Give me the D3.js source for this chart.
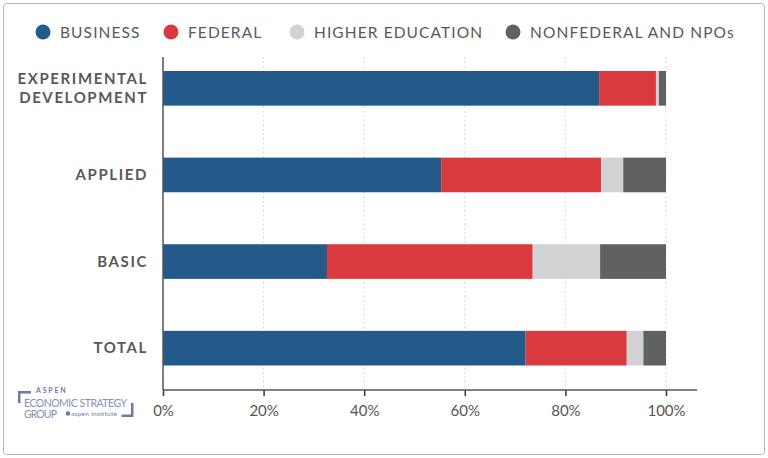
<!DOCTYPE html>
<html>
<head>
<meta charset="utf-8">
<script src="https://cdn.jsdelivr.net/npm/d3@7"></script>
<style>
  body { margin: 0; background: #fff; }
  svg text { font-family: Lato, "Open Sans", sans-serif; fill: #58595b; }
</style>
</head>
<body>
<div id="chart"></div>
<script>
// categories, top to bottom
var categories = ["EXPERIMENTAL DEVELOPMENT", "APPLIED", "BASIC", "TOTAL"];
var seriesNames = ["BUSINESS", "FEDERAL", "HIGHER EDUCATION", "NONFEDERAL AND NPOs"];
var seriesColors = ["#245a8a", "#d93a40", "#d1d2d4", "#606161"];

// shares in %, one array per series (same order as categories)
var business = [86.7, 55.3, 32.6, 72.1];
var federal = [11.3, 31.8, 40.9, 20.1];
var higherEd = [0.6, 4.4, 13.4, 3.3];
var nonfederal = [1.4, 8.5, 13.1, 4.5];

var tickValues = [0, 20, 40, 60, 80, 100];

var W = 768, H = 458;
var plot = {left: 163, right: 666, top: 57, bottom: 390};

var svg = d3.select("#chart").append("svg")
    .attr("width", W)
    .attr("height", H);

// outer frame
svg.append("rect")
    .attr("x", 3.5).attr("y", 3.5)
    .attr("width", W - 7).attr("height", H - 7)
    .attr("rx", 3)
    .style("fill", "none")
    .style("stroke", "#b5b5b5")
    .style("stroke-width", 1);

var x = d3.scaleLinear().domain([0, 100]).range([plot.left, plot.right]);
var y = d3.scaleBand().domain(categories)
    .range([71, 365.5])
    .paddingInner(0.6).paddingOuter(0);

// build stack rows from the arrays
var rows = categories.map(function(c, i) {
  return {cat: c, s0: business[i], s1: federal[i], s2: higherEd[i], s3: nonfederal[i]};
});
var stack = d3.stack().keys(["s0", "s1", "s2", "s3"])(rows);

// dotted grid
svg.append("g").selectAll("line.grid")
    .data(tickValues.slice(1)).enter().append("line")
    .attr("x1", function(d) { return x(d); })
    .attr("x2", function(d) { return x(d); })
    .attr("y1", plot.top)
    .attr("y2", plot.bottom)
    .style("stroke", "#cfcfcf")
    .style("stroke-dasharray", "1.5,3");

// bars
svg.append("g").selectAll("g.series")
    .data(stack).enter().append("g")
    .style("fill", function(d, i) { return seriesColors[i]; })
    .selectAll("rect")
    .data(function(d) { return d; }).enter().append("rect")
    .attr("x", function(d) { return x(d[0]); })
    .attr("width", function(d) { return x(d[1]) - x(d[0]); })
    .attr("y", function(d) { return y(d.data.cat); })
    .attr("height", y.bandwidth());

// x axis
var xAxis = svg.append("g")
    .attr("transform", "translate(0," + plot.bottom + ")")
    .call(d3.axisBottom(x).tickValues(tickValues)
      .tickFormat(function(d) { return d + "%"; })
      .tickSize(6).tickPadding(9).tickSizeOuter(0));
xAxis.select(".domain").remove();
xAxis.append("line")
    .attr("x1", plot.left).attr("x2", 697)
    .style("stroke", "#555").style("stroke-width", 1.5);
xAxis.selectAll(".tick line").style("stroke", "#333").style("stroke-width", 1.5);
xAxis.selectAll(".tick text")
    .style("font-size", "15px")
    .style("font-family", "Lato, sans-serif")
    .style("fill", "#555");

// y axis line
svg.append("line")
    .attr("x1", plot.left).attr("x2", plot.left)
    .attr("y1", plot.top).attr("y2", plot.bottom)
    .style("stroke", "#555").style("stroke-width", 1.5);

// category labels
var labels = svg.append("g").selectAll("text.cat")
    .data(categories).enter().append("text")
    .attr("x", 148)
    .attr("y", function(d) { return y(d) + y.bandwidth() / 2; })
    .attr("text-anchor", "end")
    .style("font-size", "15px")
    .style("font-weight", "bold")
    .style("letter-spacing", "1.6px")
    .style("fill", "#58595b");
labels.each(function(d) {
  var t = d3.select(this);
  var parts = d === "EXPERIMENTAL DEVELOPMENT" ? ["EXPERIMENTAL", "DEVELOPMENT"] : [d];
  parts.forEach(function(p, i) {
    t.append("tspan")
      .attr("x", 148)
      .attr("dy", parts.length > 1 ? (i === 0 ? "-0.3em" : "1.25em") : "0.35em")
      .text(p);
  });
});

// legend
var legendX = [43, 171, 297, 513];
var legend = svg.append("g").selectAll("g.leg")
    .data(seriesNames).enter().append("g")
    .attr("transform", function(d, i) { return "translate(" + legendX[i] + ",32)"; });
legend.append("circle")
    .attr("r", 7.5)
    .style("fill", function(d, i) { return seriesColors[i]; });
legend.append("text")
    .attr("x", 17)
    .attr("dy", "0.36em")
    .style("font-size", "15.5px")
    .style("letter-spacing", "1.1px")
    .text(function(d) { return d; });

// logo
var logoColor = "#6f7aa6", logoLight = "#8790b6";
var logo = svg.append("g");
logo.append("path")
    .attr("d", "M18,403 V391 H31 V393.5 H20.5 V403 Z")
    .style("fill", logoColor);
logo.append("text").attr("x", 36).attr("y", 393)
    .style("font-size", "7px").style("font-weight", "bold")
    .style("letter-spacing", "1.8px").style("fill", logoColor)
    .text("ASPEN");
logo.append("text").attr("x", 24).attr("y", 406.5)
    .attr("textLength", 103)
    .style("font-size", "10.5px").style("fill", logoLight)
    .text("ECONOMIC STRATEGY");
logo.append("text").attr("x", 24).attr("y", 417.5)
    .attr("textLength", 33)
    .style("font-size", "10.5px").style("fill", logoLight)
    .text("GROUP");
logo.append("circle").attr("cx", 68).attr("cy", 413.5).attr("r", 2.3)
    .style("fill", logoColor);
logo.append("text").attr("x", 71).attr("y", 416)
    .attr("textLength", 46)
    .style("font-size", "6.5px").style("fill", logoColor)
    .text("aspen institute");
logo.append("path")
    .attr("d", "M121.5,417 H133.5 V403 H131 V414.5 H121.5 Z")
    .style("fill", logoColor);
</script>
</body>
</html>
